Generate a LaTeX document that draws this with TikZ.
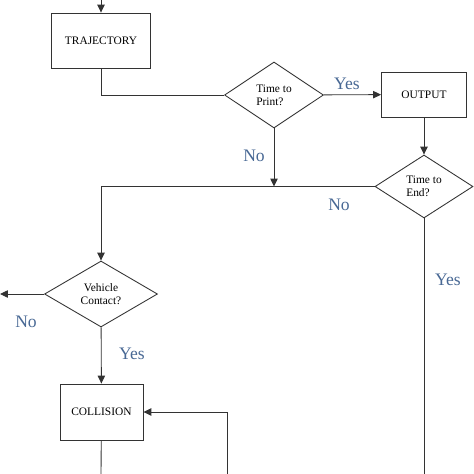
\documentclass[tikz,border=0pt]{standalone}
\usepackage{fontspec}
\setmainfont{Liberation Serif}
\usetikzlibrary{shapes.geometric,arrows.meta}
\definecolor{ansblue}{RGB}{72,104,148}

\begin{document}
\begin{tikzpicture}[x=0.02cm,y=-0.02cm,line width=0.5pt,draw=black!80,
		font=\fontsize{6.5}{7.5}\selectfont,
		>={Stealth[inset=0pt,length=4.5pt,width=4.2pt]},
		block/.style={draw,inner sep=0pt},
		choice/.style={draw,diamond,inner sep=0pt},
		answer/.style={text=ansblue,font=\fontsize{10}{10}\selectfont}]
		\useasboundingbox (0,0) rectangle (474,474);
		\coordinate (in) at (101,0);
		\node[block,minimum width=1.98cm,minimum height=1.1cm] (traj) at (101,40.5) {TRAJECTORY};
		\node[choice,minimum width=1.98cm,minimum height=1.32cm,align=left] (print) at (274,95) {Time to\\Print?};
		\node[block,minimum width=1.7cm,minimum height=0.9cm] (out) at (424,94.5) {OUTPUT};
		\node[choice,minimum width=1.96cm,minimum height=1.26cm,align=left] (end) at (424,186.5) {Time to\\End?};
		\coordinate (join) at (274,186.5);
		\node[choice,minimum width=2.26cm,minimum height=1.32cm,align=center] (contact) at (101,294) {Vehicle\\Contact?};
		\coordinate (exit) at (0,294);
		\node[block,minimum width=1.66cm,minimum height=1.12cm] (coll) at (101.5,412) {COLLISION};
		\coordinate (down) at (101,474);
		\coordinate (loop) at (227,474);
		\coordinate (endout) at (424,474);
		% connectors
		\draw[->] (in)--(traj);
		\draw (traj)|-(print);
		\draw[->] (print)--(out);
		\draw[->] (out)--(end);
		\draw[->] (print)--(join);
		\draw[->] (end)-|(contact);
		\draw[->] (contact)--(exit);
		\draw[->] (contact)--(coll);
		\draw (coll)--(down);
		\draw[->] (loop)|-(coll);
		\draw (end)--(endout);
		% answers
		\node[answer] (yesprint) at (347,84) {Yes};
		\node[answer] (noprint) at (254,156) {No};
		\node[answer] (noend) at (339,205) {No};
		\node[answer] (yesend) at (448,280) {Yes};
		\node[answer] (nocontact) at (26,322) {No};
		\node[answer] (yescontact) at (132,354) {Yes};
		\end{tikzpicture}
\end{document}
